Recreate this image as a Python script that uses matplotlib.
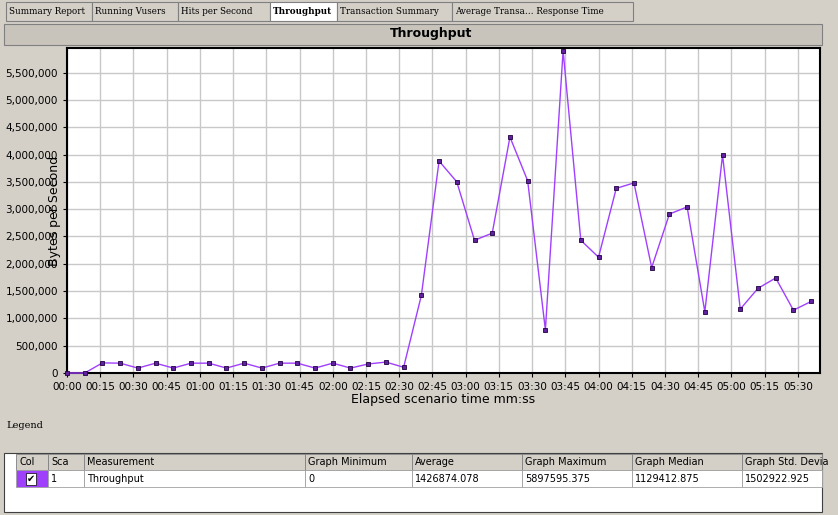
import numpy as np
import matplotlib
matplotlib.use('Agg')
import matplotlib.pyplot as plt
from matplotlib.patches import Rectangle
from matplotlib.ticker import FuncFormatter, MultipleLocator

# sample times (s) and throughput (bytes/s)
times = np.arange(0, 344, 8)
values = [0, 0, 185000, 180000, 90000, 180000, 90000, 180000, 180000, 90000,
          180000, 90000, 180000, 180000, 90000, 180000, 90000, 165000, 200000, 105000,
          1420000, 3880000, 3500000, 2430000, 2560000, 4320000, 3520000, 790000,
          5897595, 2430000, 2120000, 3380000, 3480000, 1930000, 2910000, 3040000,
          1120000, 3990000, 1170000, 1550000, 1740000, 1150000, 1310000]
tabs = ["Summary Report", "Running Vusers", "Hits per Second", "Throughput",
        "Transaction Summary", "Average Transa\u2026 Response Time"]
columns = ["Col", "Sca", "Measurement", "Graph Minimum", "Average", "Graph Maximum",
           "Graph Median", "Graph Std. Devia"]
row = ["", "1", "Throughput", "0", "1426874.078", "5897595.375", "1129412.875", "1502922.925"]

W, H = 838, 515
bg = '#d4d0c8'
fig = plt.figure(figsize=(W / 100, H / 100), dpi=100, facecolor=bg)

def fx(x): return x / W
def fy(y): return 1 - y / H

# tabs
tab_x = [6, 92, 178, 270, 337, 452, 633]
for i, t in enumerate(tabs):
    fig.patches.append(Rectangle((fx(tab_x[i]), fy(21)), fx(tab_x[i + 1] - tab_x[i]), 19 / H,
                                 transform=fig.transFigure, fc='white' if i == 3 else bg,
                                 ec='#808080', lw=0.8))
    fig.text(fx(tab_x[i] + 3), fy(12), t, fontsize=6.3, family='DejaVu Serif',
             weight='bold' if i == 3 else 'normal', va='center')

# title bar
fig.patches.append(Rectangle((fx(4), fy(45)), fx(818), 21 / H, transform=fig.transFigure,
                             fc='#c8c4bc', ec='#808080', lw=0.8))
fig.text(fx(431), fy(34), "Throughput", fontsize=9, weight='bold', ha='center', va='center')

ax = fig.add_axes([fx(67), fy(373), fx(820 - 67), (373 - 48) / H])
ax.set_facecolor('white')
ax.plot(times, values, color='#a040ff', lw=1, marker='s', ms=3,
        mfc='#6020a0', mec='#200040', mew=0.6, clip_on=False, zorder=5)
ax.set_xlim(0, 340)
ax.set_ylim(0, 5950000)
ax.xaxis.set_major_locator(MultipleLocator(15))
ax.yaxis.set_major_locator(MultipleLocator(500000))
ax.xaxis.set_major_formatter(FuncFormatter(lambda v, p: f"{int(v)//60:02d}:{int(v)%60:02d}"))
ax.yaxis.set_major_formatter(FuncFormatter(lambda v, p: f"{int(v):,}"))
ax.grid(color='#c8c8c8', lw=1)
ax.tick_params(labelsize=7.5, length=3)
for s in ax.spines.values():
    s.set_linewidth(1.5)
ax.set_xlabel("Elapsed scenario time mm:ss", fontsize=9, labelpad=1)
ax.set_ylabel("Bytes per Second", fontsize=9, labelpad=-40)

# legend panel
fig.text(fx(6), fy(425), "Legend", fontsize=7, family='DejaVu Serif', va='center')
fig.patches.append(Rectangle((fx(4), fy(512)), fx(818), (512 - 453) / H, transform=fig.transFigure,
                             fc='white', ec='#404040', lw=0.8))
col_x = [16, 48, 84, 305, 412, 522, 632, 742, 822]
for i, c in enumerate(columns):
    x0, x1 = col_x[i], col_x[i + 1]
    fig.patches.append(Rectangle((fx(x0), fy(470)), fx(x1 - x0), 16 / H, transform=fig.transFigure,
                                 fc=bg, ec='#808080', lw=0.6))
    fig.text(fx(x0 + 3), fy(462), c, fontsize=7, va='center')
    fig.patches.append(Rectangle((fx(x0), fy(487)), fx(x1 - x0), 17 / H, transform=fig.transFigure,
                                 fc='#a040ff' if i == 0 else 'white', ec='#a0a0a0', lw=0.6))
    fig.text(fx(x0 + 3), fy(479), row[i], fontsize=7, va='center')
fig.text(fx(31), fy(479), "\u2714", fontsize=7, ha='center', va='center', color='black',
         bbox=dict(fc='white', ec='black', lw=0.5, pad=0.5))

fig.savefig('out.png', dpi=100, facecolor=bg)
